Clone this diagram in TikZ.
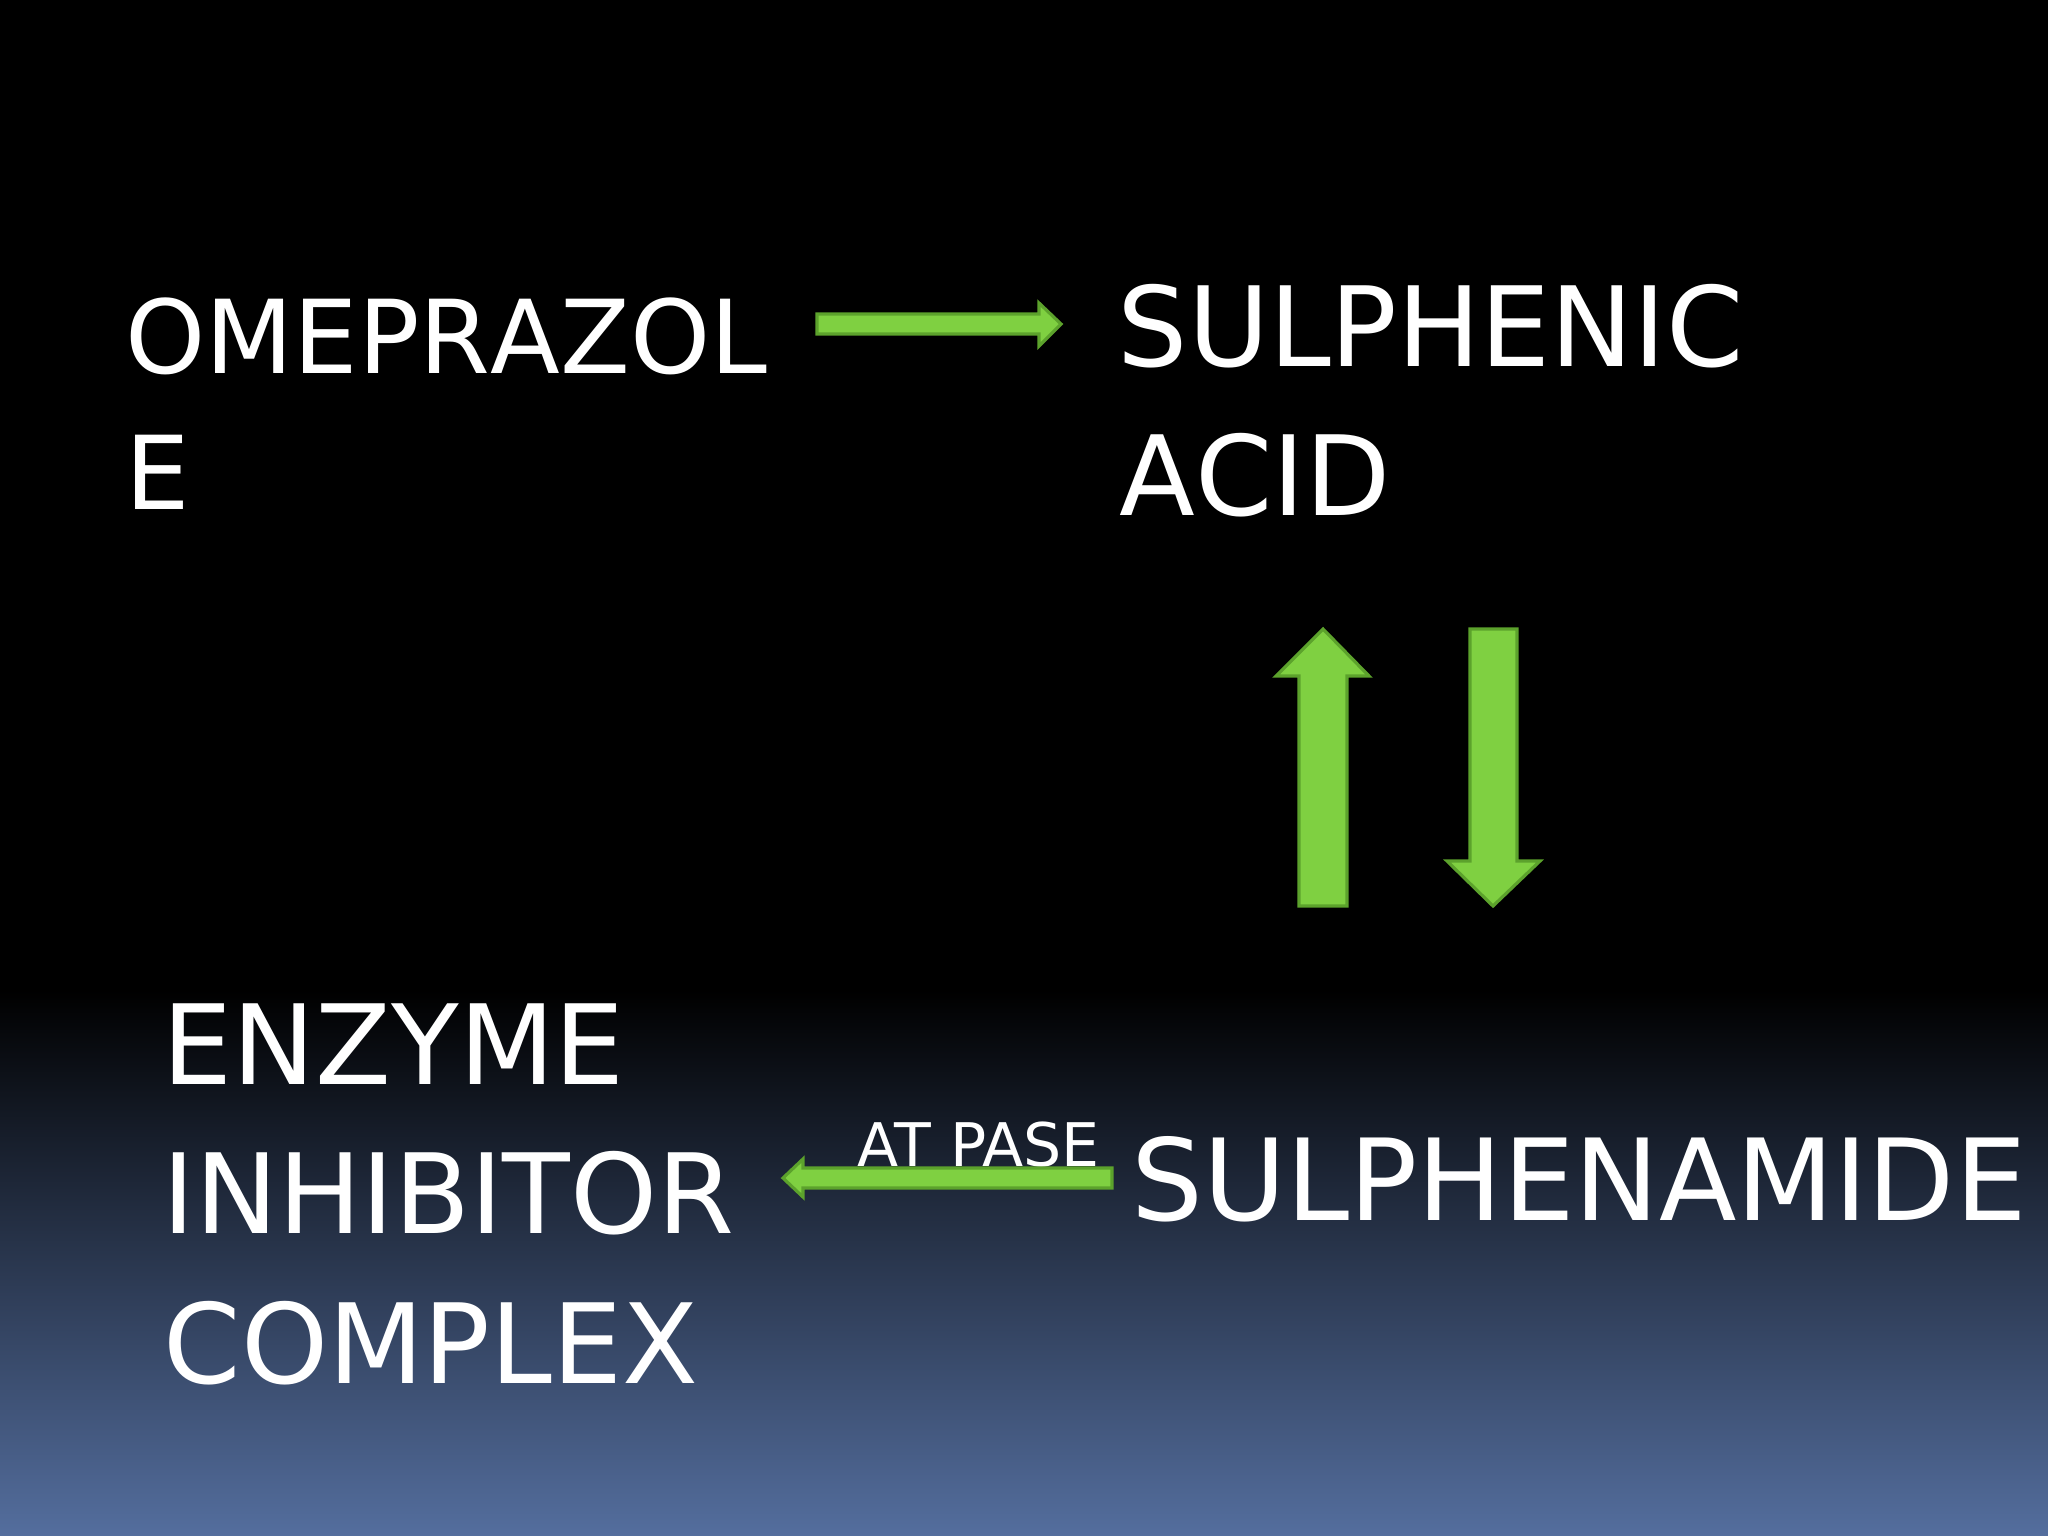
\documentclass[tikz,border=0pt]{standalone}
\usepackage{fontspec}
\setmainfont{DejaVu Sans}[Kerning=Off]
\newfontfamily\kernedfont{DejaVu Sans}
\definecolor{arrowfill}{RGB}{127,208,65}
\definecolor{arrowedge}{RGB}{92,162,44}
\definecolor{bgblue}{RGB}{84,110,158}
\begin{document}
\begin{tikzpicture}[x=0.01cm,y=-0.01cm,
  lbl/.style={anchor=base west, inner sep=0pt, text=white, font=\fontsize{31.5}{38}\selectfont},
  lblsmall/.style={lbl, font=\fontsize{29}{35}\selectfont},
  lblbig/.style={lbl, font=\fontsize{32.2}{38}\selectfont},
  lbltiny/.style={lbl, font=\kernedfont\fontsize{17.1}{21}\selectfont},
  blockarrow/.style={fill=arrowfill, draw=arrowedge, line width=0.9pt, line join=miter}]
\useasboundingbox (0,0) rectangle (2048,1536);
\fill[black] (0,0) rectangle (2048,992);
\shade[top color=black, bottom color=bgblue] (0,990) rectangle (2048,1536);
% texts
\node[lblsmall] (ome1) at (125,373) {OMEPRAZOL};
\node[lblsmall] (ome2) at (125,509) {E};
\node[lbl] (sul1) at (1117,366) {SULPHENIC};
\node[lbl] (sul2) at (1119,515) {ACID};
\node[lbl] (enz1) at (162,1084) {ENZYME};
\node[lbl] (enz2) at (162,1233) {INHIBITOR};
\node[lbl] (enz3) at (163,1383) {COMPLEX};
\node[lblbig] (sam) at (1131,1220) {SULPHENAMIDE};
\node[lbltiny] (atp) at (857,1166) {AT PASE};
% block arrows
\draw[blockarrow] (817,314) -- (1039,314) -- (1039,303) -- (1061,324) -- (1039,346) -- (1039,334) -- (817,334) -- cycle;
\draw[blockarrow] (1299,906) -- (1299,676) -- (1276,676) -- (1323,629) -- (1369,676) -- (1347,676) -- (1347,906) -- cycle;
\draw[blockarrow] (1470,629) -- (1517,629) -- (1517,861) -- (1540,861) -- (1493,906) -- (1447,861) -- (1470,861) -- cycle;
\draw[blockarrow] (1112,1168) -- (803,1168) -- (803,1159) -- (783,1178) -- (803,1197) -- (803,1188) -- (1112,1188) -- cycle;
\end{tikzpicture}
\end{document}
